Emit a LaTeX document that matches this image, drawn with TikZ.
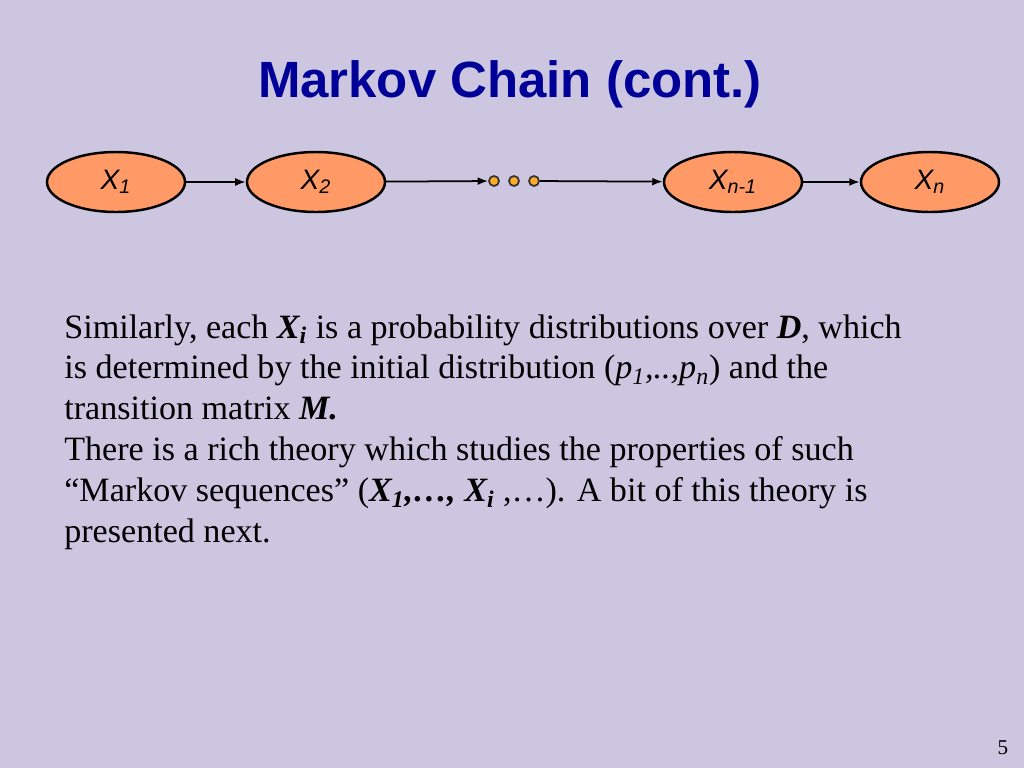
\documentclass[tikz,border=0pt]{standalone}
\usepackage{fontspec}
\setmainfont{Liberation Serif}
\newfontfamily\hsans{Liberation Sans}
\usetikzlibrary{shapes.geometric,arrows.meta}
\definecolor{bg}{RGB}{204,198,224}
\definecolor{nodefill}{RGB}{255,153,102}
\definecolor{dotfill}{RGB}{255,170,40}
\definecolor{titleblue}{RGB}{0,0,153}
\tikzset{
  state/.style={ellipse,draw=black,line width=1.4pt,fill=nodefill,minimum width=2.76cm,minimum height=1.2cm,inner sep=0pt,font=\hsans\itshape\fontsize{16}{18}\selectfont},
  dotnode/.style={circle,draw=black!80,line width=1pt,fill=dotfill,minimum size=0.2cm,inner sep=0pt},
  conn/.style={-{Latex[length=6pt,width=4.5pt]},line width=1pt}
}
\begin{document}
\begin{tikzpicture}[x=0.02cm,y=-0.02cm]
\fill[bg] (0,0) rectangle (1024,768);
\useasboundingbox (0,0) rectangle (1024,768);
\node[font=\hsans\bfseries\fontsize{29}{34}\selectfont,text=titleblue] (title) at (510,84) {Markov Chain (cont.)};
\node[state] (x1) at (116,182) {X\textsubscript{1}};
\node[state] (x2) at (316,182) {X\textsubscript{2}};
\node[state] (xn1) at (733,182) {X\textsubscript{n-1}};
\node[state] (xn) at (930,182) {X\textsubscript{n}};
\node[dotnode] (d1) at (494,181) {};
\node[dotnode] (d2) at (514,181) {};
\node[dotnode] (d3) at (534,181) {};
\draw[conn] (x1) -- (x2);
\draw[conn] (x2) -- (d1);
\draw[conn] (d3) -- (xn1);
\draw[conn] (xn1) -- (xn);
\node[anchor=north west,align=left,inner sep=0pt,font=\fontsize{19.4}{23.3}\selectfont] (body) at (64,314) {%
Similarly, each \textbf{\textit{X\textsubscript{i}}} is a probability distributions over \textbf{\textit{D}}, which\\
is determined by the initial distribution (\textit{p\textsubscript{1},..,p\textsubscript{n}}) and the\\
transition matrix \textbf{\textit{M.}}\\
There is a rich theory which studies the properties of such\\
“Markov sequences” (\textbf{\textit{X\textsubscript{1},…, X\textsubscript{i}}} ,…). A bit of this theory is\\
presented next.};
\node[font=\fontsize{12}{14}\selectfont] (page) at (1003,748) {5};
\end{tikzpicture}
\end{document}
